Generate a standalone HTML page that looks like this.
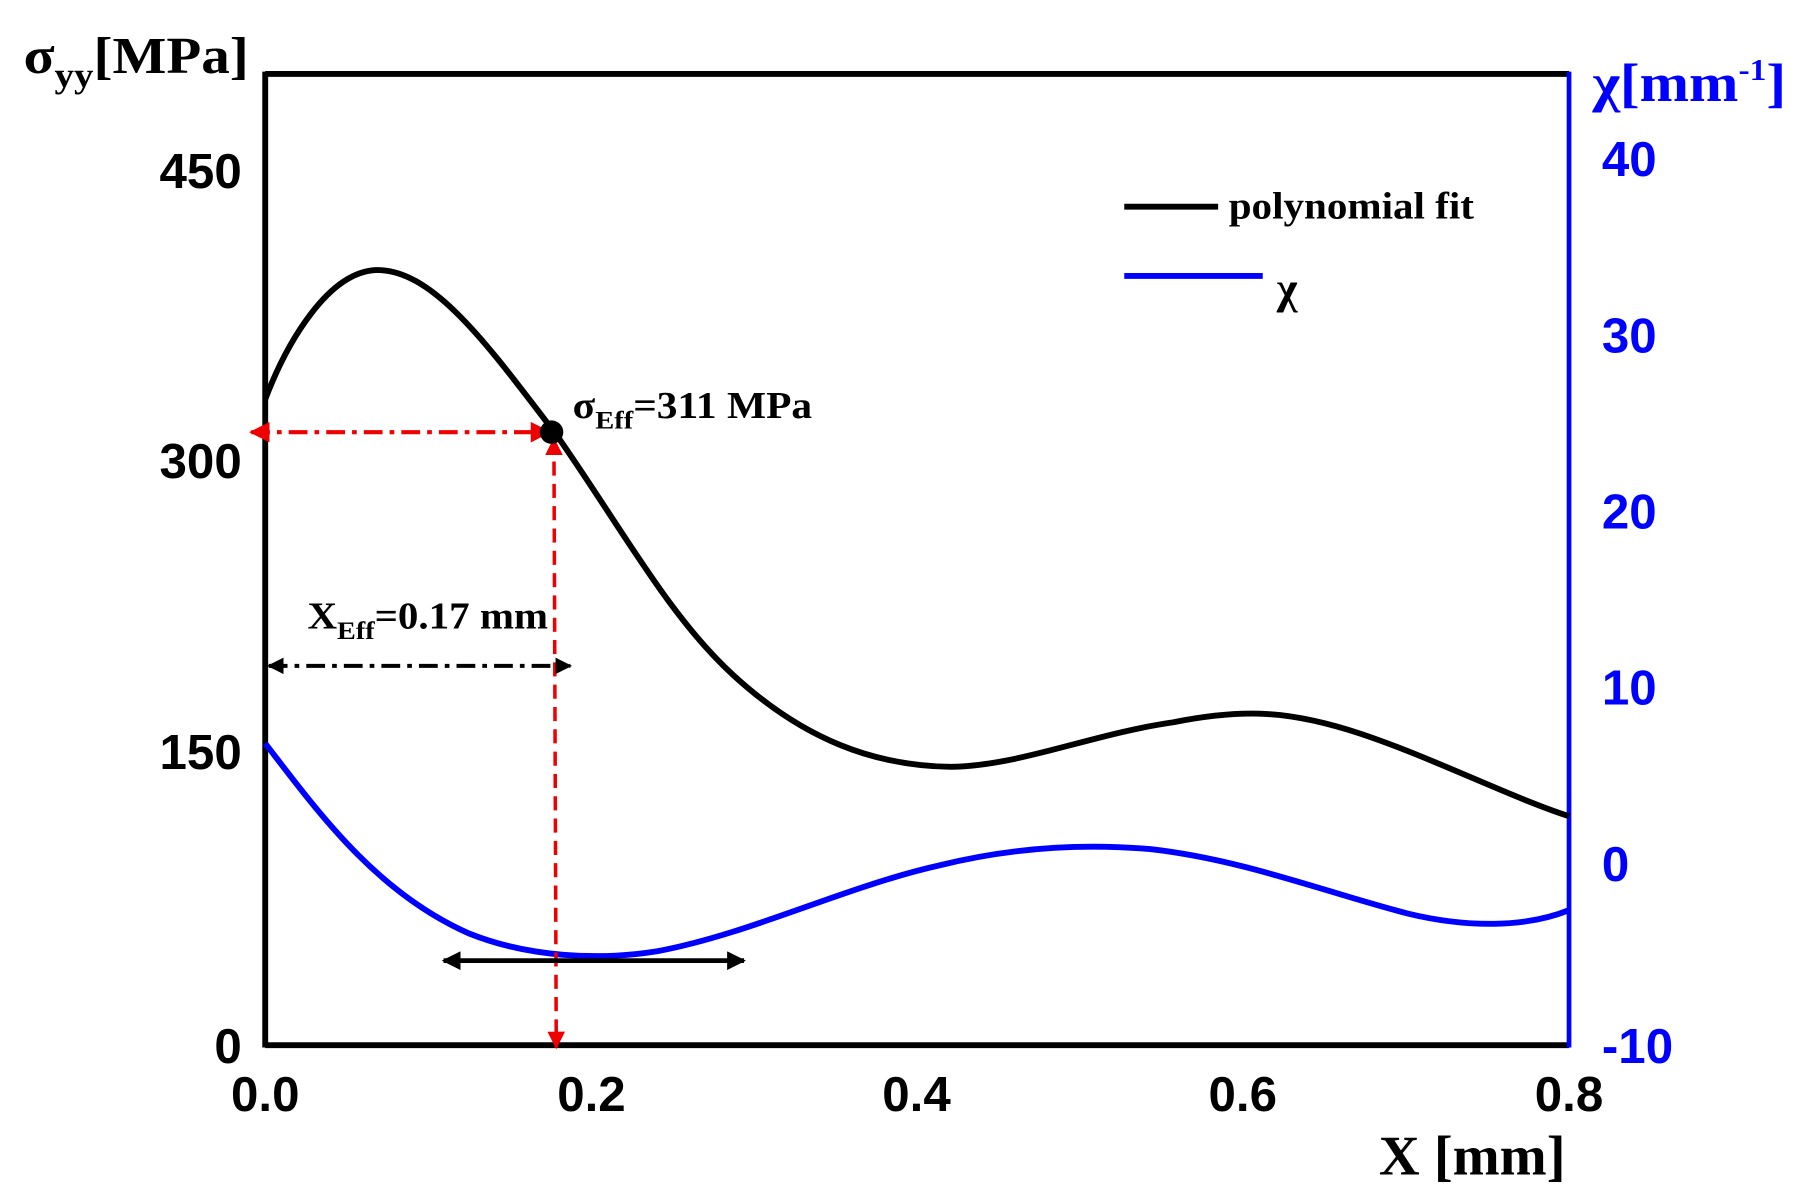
<!DOCTYPE html>
<html><head><meta charset="utf-8"><style>
html,body{margin:0;padding:0;background:#fff;}
svg{display:block;}
.tk{font-family:"Liberation Sans",Arial,sans-serif;font-weight:bold;font-size:42px;}
.sr{font-family:"Liberation Serif",serif;font-weight:bold;}
</style></head><body>
<svg width="1819" height="1192" viewBox="0 0 1550 1015" preserveAspectRatio="none" xmlns="http://www.w3.org/2000/svg">
<defs>
<marker id="ar" viewBox="0 0 10 10" refX="9" refY="5" markerWidth="5" markerHeight="5" orient="auto-start-reverse"><path d="M0,0 L10,5 L0,10 z" fill="#e00"/></marker>
<marker id="ab" viewBox="0 0 10 10" refX="9" refY="5" markerWidth="4" markerHeight="4" orient="auto-start-reverse"><path d="M0,0 L10,5 L0,10 z" fill="#000"/></marker>
</defs>
<rect x="0" y="0" width="1550" height="1015" fill="#fff"/>
<line x1="226" y1="63" x2="1337" y2="63" stroke="#000" stroke-width="5"/>
<line x1="226" y1="890" x2="1337" y2="890" stroke="#000" stroke-width="5"/>
<line x1="226" y1="61" x2="226" y2="892" stroke="#000" stroke-width="5"/>
<line x1="1337" y1="61" x2="1337" y2="892" stroke="#00f" stroke-width="4"/>
<path d="M226,340 C245,290 280,232 320,230 C370,228 420,300 474,370 C530,450 570,525 625,575 C685,630 745,652 810,653 C870,652 930,625 1000,615 C1060,603 1100,605 1160,625 C1220,645 1290,680 1337,695" fill="none" stroke="#000" stroke-width="5"/>
<path d="M226,633 C270,690 320,760 400,795 C450,815 510,818 560,810 C640,795 720,755 800,737 C860,722 920,718 980,723 C1060,732 1130,760 1200,778 C1250,790 1300,790 1337,775" fill="none" stroke="#00f" stroke-width="5"/>
<line x1="214" y1="368" x2="468" y2="368" stroke="#e00" stroke-width="3.5" stroke-dasharray="16,6,4,6" marker-start="url(#ar)" marker-end="url(#ar)"/>
<line x1="472" y1="374" x2="474" y2="892" stroke="#e00" stroke-width="3" stroke-dasharray="12,7" marker-start="url(#ar)" marker-end="url(#ar)"/>
<circle cx="470" cy="368" r="10" fill="#000"/>
<line x1="229" y1="567" x2="486" y2="567" stroke="#000" stroke-width="3.5" stroke-dasharray="16,6,4,6" marker-start="url(#ab)" marker-end="url(#ab)"/>
<line x1="378" y1="818" x2="634" y2="818" stroke="#000" stroke-width="4" marker-start="url(#ab)" marker-end="url(#ab)"/>
<text class="sr" x="488" y="356" font-size="32" textLength="204" lengthAdjust="spacingAndGlyphs">σ<tspan font-size="22" dy="9">Eff</tspan><tspan dy="-9">=311 MPa</tspan></text>
<text class="sr" x="262" y="535" font-size="32" textLength="205" lengthAdjust="spacingAndGlyphs">X<tspan font-size="22" dy="9">Eff</tspan><tspan dy="-9">=0.17 mm</tspan></text>
<line x1="958" y1="176" x2="1038" y2="176" stroke="#000" stroke-width="5"/>
<text class="sr" x="1047" y="186" font-size="32" textLength="209" lengthAdjust="spacingAndGlyphs">polynomial fit</text>
<line x1="958" y1="235" x2="1076" y2="235" stroke="#00f" stroke-width="5"/>
<text class="sr" x="1088" y="258" font-size="38" font-weight="normal">χ</text>
<text class="tk" x="206" y="160" text-anchor="end">450</text>
<text class="tk" x="206" y="407" text-anchor="end">300</text>
<text class="tk" x="206" y="655" text-anchor="end">150</text>
<text class="tk" x="206" y="905" text-anchor="end">0</text>
<g fill="#00f">
<text class="tk" x="1365" y="150">40</text>
<text class="tk" x="1365" y="300">30</text>
<text class="tk" x="1365" y="450">20</text>
<text class="tk" x="1365" y="600">10</text>
<text class="tk" x="1365" y="750">0</text>
<text class="tk" x="1365" y="905">-10</text>
</g>
<text class="tk" x="226" y="946" text-anchor="middle">0.0</text>
<text class="tk" x="504" y="946" text-anchor="middle">0.2</text>
<text class="tk" x="781" y="946" text-anchor="middle">0.4</text>
<text class="tk" x="1059" y="946" text-anchor="middle">0.6</text>
<text class="tk" x="1337" y="946" text-anchor="middle">0.8</text>
<text class="sr" x="1175" y="1000" font-size="48" textLength="159" lengthAdjust="spacingAndGlyphs">X [mm]</text>
<text class="sr" x="20" y="62" font-size="44" textLength="192" lengthAdjust="spacingAndGlyphs">σ<tspan font-size="30" dy="12">yy</tspan><tspan dy="-12">[MPa]</tspan></text>
<text class="sr" x="1357" y="86" font-size="46" fill="#00f" textLength="165" lengthAdjust="spacingAndGlyphs">χ[mm<tspan font-size="26" dy="-18">-1</tspan><tspan dy="18">]</tspan></text>
</svg>
</body></html>
